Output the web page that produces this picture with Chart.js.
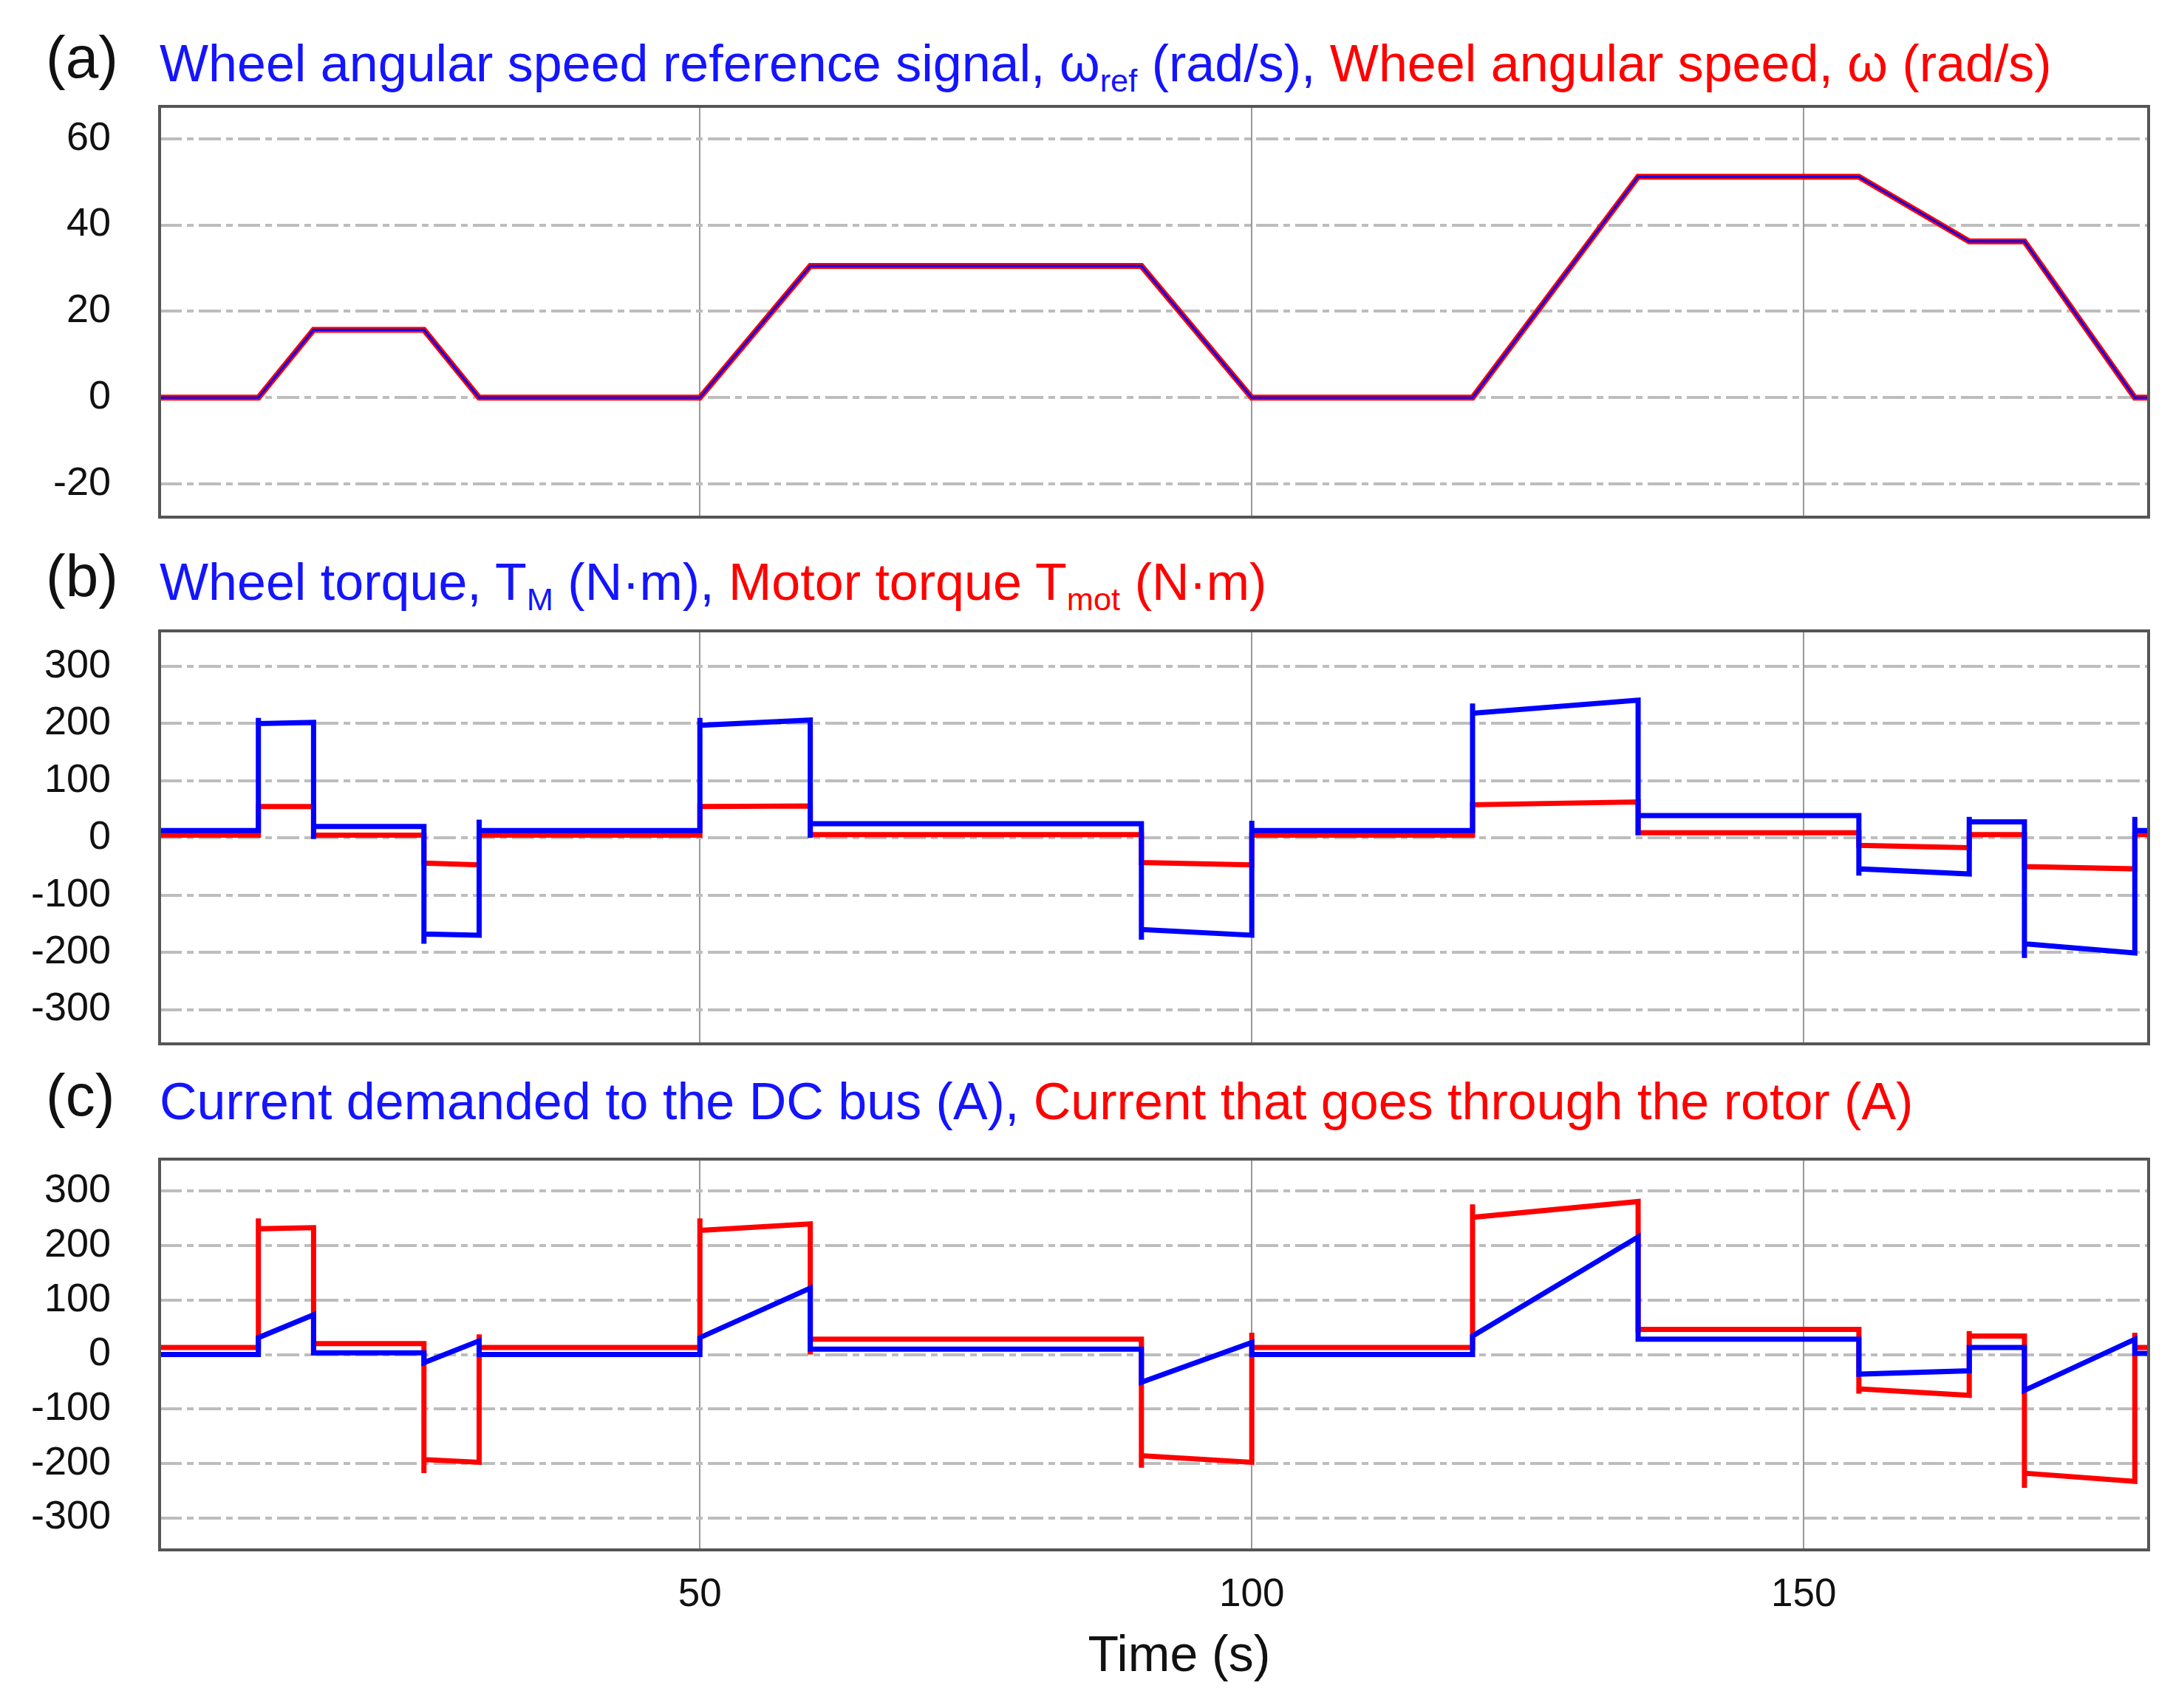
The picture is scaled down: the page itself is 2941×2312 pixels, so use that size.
<!DOCTYPE html>
<html>
<head>
<meta charset="utf-8">
<script src="https://cdn.jsdelivr.net/npm/chart.js@4.4.1/dist/chart.umd.min.js"></script>
<style>
  body { margin: 0; background: #fff; }
  #page { position: relative; width: 2941px; height: 2312px; overflow: hidden; font-family: "Liberation Sans", Arial, sans-serif; }
  canvas { position: absolute; left: 0; }
  .ttl { position: absolute; left: 0; font-size: 70px; line-height: 70px; white-space: nowrap; }
  .lab { position: absolute; left: 62px; top: -8px; font-size: 80px; color: #111; }
  .txt { position: absolute; left: 216px; }
  .b { color: #1414ff; }
  .r { color: #ff0000; }
  sub { font-size: 0.62em; vertical-align: baseline; position: relative; top: 0.32em; }
  #xlabel { position: absolute; left: 1396px; width: 400px; top: 2199px; text-align: center; font-size: 68px; line-height: 78px; color: #111; }
</style>
</head>
<body>
<div id="page">
  <div class="ttl" style="top:51px"><span class="lab">(a)</span><span class="txt"><span class="b">Wheel angular speed reference signal, ω<sub>ref</sub> (rad/s), </span><span class="r">Wheel angular speed, ω (rad/s)</span></span></div>
  <canvas id="speedChart" width="2941" height="600" style="top:120px"></canvas>

  <div class="ttl" style="top:753px"><span class="lab">(b)</span><span class="txt"><span class="b">Wheel torque, T<sub>M</sub> (N·m), </span><span class="r">Motor torque T<sub>mot</sub> (N·m)</span></span></div>
  <canvas id="torqueChart" width="2941" height="600" style="top:830px"></canvas>

  <div class="ttl" style="top:1456px"><span class="lab">(c)</span><span class="txt"><span class="b">Current demanded to the DC bus (A), </span><span class="r">Current that goes through the rotor (A)</span></span></div>
  <canvas id="currentChart" width="2941" height="767" style="top:1545px"></canvas>

  <div id="xlabel">Time (s)</div>
</div>
<script>
// time axis
const xTicks = [50, 100, 150];
const xMin = 1.05, xMax = 181.25;

// (a) wheel speed
const tSpeed   = [0, 10, 15, 25, 30, 50, 60, 90, 100, 120, 135, 155, 165, 170, 180, 182];
const omegaRef = [0, 0, 15.7, 15.7, 0, 0, 30.5, 30.5, 0, 0, 51.2, 51.2, 36.2, 36.2, 0, 0];
const omega    = [0, 0, 15.7, 15.7, 0, 0, 30.5, 30.5, 0, 0, 51.2, 51.2, 36.2, 36.2, 0, 0];
const speedTicks = [-20, 0, 20, 40, 60];

// time bases for the step signals (switching instants repeated for the spikes)
const tFine = [0, 10, 10, 10, 15, 15, 15, 25, 25, 25, 30, 30, 30, 50, 50, 50, 60, 60, 60,
  90, 90, 90, 100, 100, 100, 120, 120, 120, 135, 135, 135, 155, 155, 155, 165, 165, 165,
  170, 170, 170, 180, 180, 180, 182];
const tCoarse = [0, 10, 10, 15, 15, 25, 25, 30, 30, 50, 50, 60, 60, 90, 90, 100, 100, 120, 120,
  135, 135, 155, 155, 165, 165, 170, 170, 180, 180, 182];

// (b) torques
const wheelTorque = [13, 13, 210, 200, 202, -2, 20, 20, -185, -168, -170, 32, 13, 13, 210, 197, 206, 0, 25,
  25, -178, -160, -170, 30, 13, 13, 235, 218, 241, 5, 39, 39, -66, -54, -63, 37, 28,
  28, -210, -185, -201, 37, 13, 13];
const motorTorque = [5, 5, 55, 55, 5, 5, -44, -47, 5, 5, 55, 56, 6, 6, -43, -47, 5, 5, 58,
  63, 9, 9, -13, -17, 6, 6, -50, -54, 6, 6];
const torqueTicks = [-300, -200, -100, 0, 100, 200, 300];

// (c) currents
const busCurrent = [0, 0, 31, 73, 3, 3, -15, 25, 0, 0, 31, 122, 10, 10, -51, 22, 0, 0, 34,
  216, 28, 28, -36, -30, 13, 13, -66, 28, 2, 2];
const rotorCurrent = [13, 13, 250, 231, 233, -2, 20, 20, -218, -193, -198, 37, 13, 13, 250, 228, 240, 0, 28,
  28, -208, -186, -198, 40, 13, 13, 276, 252, 281, 40, 46, 46, -72, -63, -75, 43, 34,
  34, -245, -218, -233, 40, 13, 13];
const currentTicks = [-300, -200, -100, 0, 100, 200, 300];

const BLUE = '#0000ff', RED = '#ff0000';

function pts(ts, vs) {
  return ts.map((t, i) => ({ x: t, y: vs[i] }));
}

// box round the plot area
const frame = {
  id: 'frame',
  afterDraw(chart) {
    const a = chart.chartArea, ctx = chart.ctx;
    ctx.save();
    ctx.strokeStyle = '#555';
    ctx.lineWidth = 4;
    ctx.strokeRect(a.left, a.top, a.right - a.left, a.bottom - a.top);
    ctx.restore();
  }
};

function panel(id, yMin, yMax, yTicks, datasets, xAxisHeight, showX) {
  return new Chart(document.getElementById(id), {
    type: 'line',
    data: { datasets },
    options: {
      responsive: false,
      animation: false,
      devicePixelRatio: 1,
      layout: { padding: { top: 24, right: 33, left: 0, bottom: 0 } },
      plugins: { legend: { display: false }, tooltip: { enabled: false } },
      elements: { point: { radius: 0 }, line: { tension: 0 } },
      scales: {
        x: {
          type: 'linear', min: xMin, max: xMax,
          afterBuildTicks: s => { s.ticks = xTicks.map(v => ({ value: v })); },
          afterFit: s => { s.height = xAxisHeight; s.paddingLeft = 0; s.paddingRight = 0; },
          grid: { color: '#999', lineWidth: 2, drawTicks: false },
          border: { display: false },
          ticks: { display: showX, padding: 30, color: '#111', maxRotation: 0, autoSkip: false,
                   font: { family: 'Liberation Sans', size: 53 } }
        },
        y: {
          min: yMin, max: yMax,
          afterBuildTicks: s => { s.ticks = yTicks.map(v => ({ value: v })); },
          afterFit: s => { s.width = 216; s.paddingTop = 0; s.paddingBottom = 0; },
          grid: { color: '#bdbdbd', lineWidth: 4, drawTicks: false },
          border: { display: false, dash: [30, 7, 9, 7] },
          ticks: { padding: 66, color: '#111', font: { family: 'Liberation Sans', size: 54 } }
        }
      }
    },
    plugins: [frame]
  });
}

panel('speedChart', -27.7, 67.5, speedTicks, [
  { data: pts(tSpeed, omegaRef), borderColor: BLUE, borderWidth: 3 },
  { data: pts(tSpeed, omega), borderColor: RED, borderWidth: 8 }
], 20, false);

panel('torqueChart', -360, 362, torqueTicks, [
  { data: pts(tFine, wheelTorque), borderColor: BLUE, borderWidth: 7 },
  { data: pts(tCoarse, motorTorque), borderColor: RED, borderWidth: 7 }
], 17, false);

panel('currentChart', -359, 359, currentTicks, [
  { data: pts(tCoarse, busCurrent), borderColor: BLUE, borderWidth: 7 },
  { data: pts(tFine, rotorCurrent), borderColor: RED, borderWidth: 7 }
], 214, true);
</script>
</body>
</html>
